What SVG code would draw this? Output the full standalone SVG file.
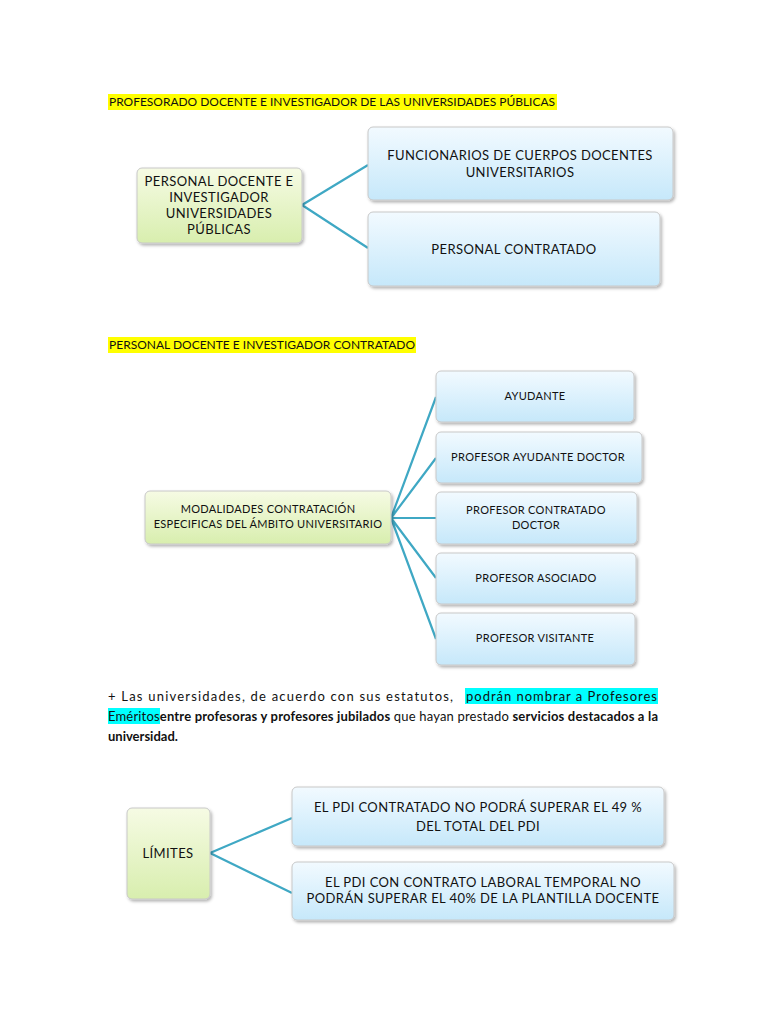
<svg xmlns="http://www.w3.org/2000/svg" width="768" height="1024" viewBox="0 0 768 1024">
<defs>
<linearGradient id="g" x1="0" y1="0" x2="0" y2="1"><stop offset="0" stop-color="#f6fbe4"/><stop offset="1" stop-color="#d8eeae"/></linearGradient>
<linearGradient id="b" x1="0" y1="0" x2="0" y2="1"><stop offset="0" stop-color="#f2faff"/><stop offset="1" stop-color="#c6e8fa"/></linearGradient>
<filter id="s" x="-10%" y="-10%" width="130%" height="140%"><feDropShadow dx="1.5" dy="2" stdDeviation="1.5" flood-color="#000" flood-opacity="0.3"/></filter>
</defs>
<style>
text{font-family:Lato,"Open Sans","Liberation Sans",sans-serif;fill:#111}
.n{stroke:#c8c8c8;stroke-width:1;filter:url(#s)}
.c{stroke:#3fa8c4;stroke-width:2.2;fill:none}
.t{font-size:11.5px}
.l{font-size:13px;letter-spacing:0.4px}
.m{font-size:11px;letter-spacing:0.3px}
.p{font-size:13px}
</style>
<rect width="768" height="1024" fill="#fff"/>
<rect x="108" y="94" width="449" height="16" fill="#ffff00"/>
<text class="t" x="109" y="106" textLength="446" lengthAdjust="spacingAndGlyphs">PROFESORADO DOCENTE E INVESTIGADOR DE LAS UNIVERSIDADES PÚBLICAS</text>
<rect x="108" y="337" width="308" height="16" fill="#ffff00"/>
<text class="t" x="109" y="349" textLength="306" lengthAdjust="spacingAndGlyphs">PERSONAL DOCENTE E INVESTIGADOR CONTRATADO</text>
<g id="connectors">
<path class="c" d="M302 205 L368 165 M302 205 L368 248"/>
<path class="c" d="M391 518 L436 397 M391 518 L436 458 M391 518 L436 518 M391 518 L436 578 M391 518 L436 639"/>
<path class="c" d="M210 853 L292 818 M210 853 L292 893"/>
</g>
<g id="nA"><rect class="n" x="137" y="168" width="165" height="75" rx="5" fill="url(#g)"/>
<text class="l" text-anchor="middle" x="219" y="186">PERSONAL DOCENTE E</text><text class="l" text-anchor="middle" x="219" y="202">INVESTIGADOR</text><text class="l" text-anchor="middle" x="219" y="218">UNIVERSIDADES</text><text class="l" text-anchor="middle" x="219" y="234">PÚBLICAS</text></g>
<g id="nB1"><rect class="n" x="368" y="127" width="305" height="73" rx="5" fill="url(#b)"/>
<text class="l" text-anchor="middle" x="520" y="160">FUNCIONARIOS DE CUERPOS DOCENTES</text><text class="l" text-anchor="middle" x="520" y="177">UNIVERSITARIOS</text></g>
<g id="nB2"><rect class="n" x="368" y="212" width="292" height="74" rx="5" fill="url(#b)"/>
<text class="l" text-anchor="middle" x="514" y="254">PERSONAL CONTRATADO</text></g>
<g id="nC"><rect class="n" x="145" y="491" width="246" height="53" rx="5" fill="url(#g)"/>
<text class="m" text-anchor="middle" x="268" y="513">MODALIDADES CONTRATACIÓN</text><text class="m" text-anchor="middle" x="268" y="528">ESPECIFICAS DEL ÁMBITO UNIVERSITARIO</text></g>
<g id="r1"><rect class="n" x="436" y="371" width="198" height="51" rx="5" fill="url(#b)"/><text class="m" text-anchor="middle" x="535" y="400">AYUDANTE</text></g>
<g id="r2"><rect class="n" x="436" y="432" width="206" height="51" rx="5" fill="url(#b)"/><text class="m" text-anchor="middle" x="538" y="461">PROFESOR AYUDANTE DOCTOR</text></g>
<g id="r3"><rect class="n" x="436" y="492" width="201" height="52" rx="5" fill="url(#b)"/><text class="m" text-anchor="middle" x="536" y="514">PROFESOR CONTRATADO</text><text class="m" text-anchor="middle" x="536" y="529">DOCTOR</text></g>
<g id="r4"><rect class="n" x="436" y="553" width="200" height="51" rx="5" fill="url(#b)"/><text class="m" text-anchor="middle" x="536" y="582">PROFESOR ASOCIADO</text></g>
<g id="r5"><rect class="n" x="436" y="613" width="199" height="52" rx="5" fill="url(#b)"/><text class="m" text-anchor="middle" x="535" y="642">PROFESOR VISITANTE</text></g>
<rect x="465" y="688" width="193" height="16" fill="#00ffff"/>
<rect x="108" y="708" width="52" height="16" fill="#00ffff"/>
<text class="p" x="108" y="701" textLength="345" lengthAdjust="spacing">+ Las universidades, de acuerdo con sus estatutos,</text>
<text class="p" x="466" y="701" textLength="191" lengthAdjust="spacing">podrán nombrar a Profesores</text>
<text class="p" x="108" y="721" textLength="550" lengthAdjust="spacing">Eméritos<tspan font-weight="bold">entre profesoras y profesores jubilados</tspan> que hayan prestado <tspan font-weight="bold">servicios destacados a la</tspan></text>
<text class="p" x="108" y="741" font-weight="bold">universidad.</text>
<g id="nL"><rect class="n" x="127" y="808" width="83" height="91" rx="5" fill="url(#g)"/><text class="l" text-anchor="middle" x="168" y="858">LÍMITES</text></g>
<g id="d1"><rect class="n" x="292" y="787" width="372" height="59" rx="5" fill="url(#b)"/><text class="l" text-anchor="middle" x="478" y="812">EL PDI CONTRATADO NO PODRÁ SUPERAR EL 49 %</text><text class="l" text-anchor="middle" x="478" y="831">DEL TOTAL DEL PDI</text></g>
<g id="d2"><rect class="n" x="292" y="862" width="382" height="58" rx="5" fill="url(#b)"/><text class="l" text-anchor="middle" x="483" y="887">EL PDI CON CONTRATO LABORAL TEMPORAL NO</text><text class="l" text-anchor="middle" x="483" y="903">PODRÁN SUPERAR EL 40% DE LA PLANTILLA DOCENTE</text></g>
</svg>
